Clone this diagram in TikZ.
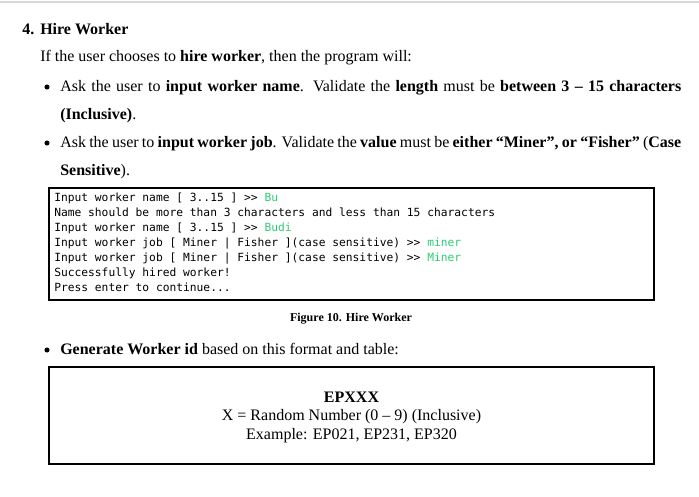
\documentclass[tikz,border=0pt]{standalone}
\usepackage{fontspec}
\setmainfont{Liberation Serif}
\setmonofont{DejaVu Sans Mono}
\usetikzlibrary{positioning}
\definecolor{inputgreen}{RGB}{45,205,115}
\definecolor{rulegrey}{RGB}{215,215,215}
\tikzset{
body/.style={anchor=base west, inner sep=0pt, font=\fontsize{12}{14}\selectfont},
bullet/.style={circle, fill=black, inner sep=0pt, minimum size=3.8pt},
console/.style={anchor=base west, inner sep=0pt, font=\ttfamily\fontsize{8.45}{10}\selectfont},
frame/.style={draw, line width=0.9pt},
idline/.style={anchor=base, inner sep=0pt, font=\fontsize{12}{14}\selectfont}
}
\newcommand{\typed}[1]{\textcolor{inputgreen}{#1}}
\newcommand{\fullline}[1]{\makebox[465.75pt][s]{#1}}

\begin{document}
\begin{tikzpicture}[x=0.75pt, y=-0.75pt]
	\useasboundingbox (0,0) rectangle (699,496);
	\draw[rulegrey, line width=0.8pt] (0,2) -- (699,2);
	% heading and intro
	\node[body, font=\bfseries\fontsize{12}{14}\selectfont] (num) at (22,34) {4.};
	\node[body, font=\bfseries\fontsize{12}{14}\selectfont] (title) at (40,34) {Hire Worker};
	\node[body] (intro) at (40,61) {If the user chooses to \textbf{hire worker}, then the program will:};
	% bullets
	\node[bullet] (b1) at (47,87) {};
	\node[body] (name1) at (60,91) {\fullline{Ask the user to \textbf{input worker name}. Validate the \textbf{length} must be \textbf{between 3 -- 15 characters}}};
	\node[body] (name2) at (60,119) {\textbf{(Inclusive)}.};
	\node[bullet] (b2) at (47,143) {};
	\node[body] (job1) at (60,147) {\fullline{Ask the user to \textbf{input worker job}. Validate the \textbf{value} must be \textbf{either “Miner”, or “Fisher”} (\textbf{Case}}};
	\node[body] (job2) at (60,175) {\textbf{Sensitive}).};
	% console output
	\draw[frame] (49,188) rectangle (654,300);
	\node[console] (c1) at (54,201) {Input worker name [ 3..15 ] >{}> \typed{Bu}};
	\node[console] (c2) at (54,216) {Name should be more than 3 characters and less than 15 characters};
	\node[console] (c3) at (54,231) {Input worker name [ 3..15 ] >{}> \typed{Budi}};
	\node[console] (c4) at (54,246) {Input worker job [ Miner | Fisher ](case sensitive) >{}> \typed{miner}};
	\node[console] (c5) at (54,261) {Input worker job [ Miner | Fisher ](case sensitive) >{}> \typed{Miner}};
	\node[console] (c6) at (54,276) {Successfully hired worker!};
	\node[console] (c7) at (54,291) {Press enter to continue...};
	\node[idline, font=\bfseries\fontsize{9}{11}\selectfont] (cap) at (351,321) {Figure 10. Hire Worker};
	% worker id
	\node[bullet] (b3) at (47,350) {};
	\node[body] (gen) at (60,354) {\textbf{Generate Worker id} based on this format and table:};
	\draw[frame] (49,367) rectangle (654,464);
	\node[idline, font=\bfseries\fontsize{12}{14}\selectfont] (fmt) at (351.5,402) {EPXXX};
	\node[idline] (rule) at (351.5,420) {X = Random Number (0 -- 9) (Inclusive)};
	\node[idline] (ex) at (351.5,439) {Example: EP021, EP231, EP320};
\end{tikzpicture}
\end{document}
